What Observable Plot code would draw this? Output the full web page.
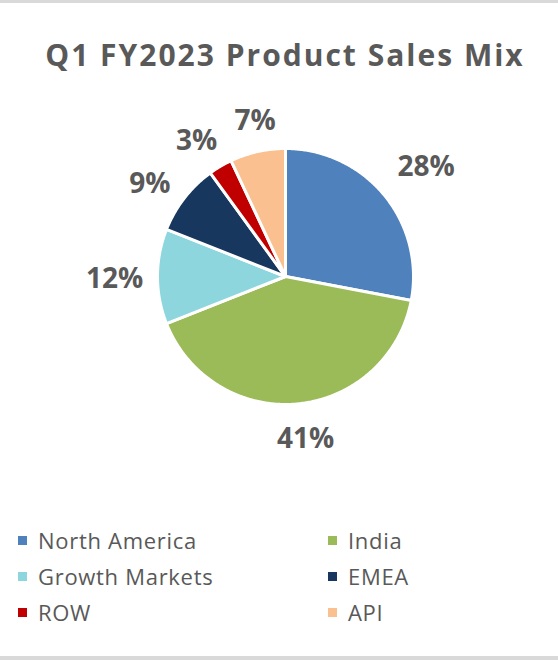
<!DOCTYPE html>
<html><head><meta charset="utf-8">
<script src="https://cdn.jsdelivr.net/npm/d3@7"></script>
<script src="https://cdn.jsdelivr.net/npm/@observablehq/plot@0.6"></script>
<style>
body{margin:0;background:#fff;font-family:"Open Sans",sans-serif;}
#wrap{position:relative;width:558px;height:660px;overflow:hidden;background:#fff;}
#topbar{position:absolute;left:0;top:0;width:558px;height:3px;background:#d9d9d9}
#botbar{position:absolute;left:0;top:656px;width:558px;height:4px;background:#d9d9d9}
#title{position:absolute;top:33px;left:0;width:570px;text-align:center;font-size:30px;font-weight:bold;color:#595959;white-space:nowrap;line-height:44px;letter-spacing:2px}
#chart{position:absolute;top:90px;left:0}
.item{position:absolute;display:flex;align-items:center;font-size:22px;color:#595959;white-space:nowrap;height:30px;letter-spacing:0.7px}
.sw{width:9px;height:9px;margin-right:11px;margin-left:0}
</style></head>
<body>
<div id="wrap">
  <div id="topbar"></div>
  <div id="title">Q1 FY2023 Product Sales Mix</div>
  <div id="chart"></div>
  <div id="legend"></div>
  <div id="botbar"></div>
</div>
<script>
const regions = ["North America", "India", "Growth Markets", "EMEA", "ROW", "API"];
const shares = [28, 41, 12, 9, 3, 7];
const colors = ["#4F81BD", "#9BBB59", "#8DD6DD", "#17375E", "#C00000", "#FAC090"];
const title = "Q1 FY2023 Product Sales Mix";

const W = 558, H = 420, cx = 285, cy = 186, R = 128;
const rows = regions.map((r, i) => ({region: r, share: shares[i]}));
const arcs = d3.pie().sort(null).value(d => d.share)(rows);

const pts = [];
arcs.forEach(a => {
  const n = Math.max(2, Math.ceil((a.endAngle - a.startAngle) / 0.01));
  pts.push({region: a.data.region, x: 0, y: 0});
  for (let k = 0; k <= n; k++) {
    const t = a.startAngle + (a.endAngle - a.startAngle) * k / n;
    pts.push({region: a.data.region, x: Math.sin(t), y: Math.cos(t)});
  }
});

// label placement: outside the slice at its mid-angle, rotated back if it collides
const offX = 5, offY = -3;
function place(angle, w) {
  const ux = Math.sin(angle), uy = Math.cos(angle);
  const d = 148 + (w / 2) * Math.abs(ux) + 10 * Math.abs(uy);
  return {x: ux * d + offX, y: uy * d + offY};
}
const boxes = arcs.map(a => {
  const text = a.data.share + "%";
  const w = (text.length - 1) * 16 + 24;
  return {text, w, angle: (a.startAngle + a.endAngle) / 2};
});
function overlaps(a, b) {
  const pa = place(a.angle, a.w), pb = place(b.angle, b.w);
  return Math.abs(pa.x - pb.x) < (a.w + b.w) / 2 + 18 && Math.abs(pa.y - pb.y) < 42;
}
for (let i = boxes.length - 2; i >= 0; i--) {
  let guard = 0;
  while (overlaps(boxes[i], boxes[i + 1]) && guard++ < 60) boxes[i].angle -= Math.PI / 360;
}
const labels = boxes.map(b => {
  const p = place(b.angle, b.w);
  return {x: p.x / R, y: p.y / R, text: b.text};
});

const chart = Plot.plot({
  width: W, height: H, margin: 0,
  style: {background: "transparent", fontFamily: "'Open Sans', sans-serif"},
  x: {domain: [-cx / R, (W - cx) / R], axis: null},
  y: {domain: [-(H - cy) / R, cy / R], axis: null},
  color: {domain: regions, range: colors},
  marks: [
    Plot.line(pts, {x: "x", y: "y", z: "region", fill: "region", stroke: "white",
      strokeWidth: 3, strokeLinejoin: "round", curve: "linear-closed"}),
    Plot.text(labels, {x: "x", y: "y", text: "text", fontSize: 28, fontWeight: "bold", fill: "#595959"})
  ]
});
document.getElementById("chart").appendChild(chart);
document.getElementById("title").textContent = title;

const legend = document.getElementById("legend");
regions.forEach((r, i) => {
  const col = i % 2, row = Math.floor(i / 2);
  const el = document.createElement("div");
  el.className = "item";
  el.style.left = (col ? 328 : 18) + "px";
  el.style.top = (525 + row * 36) + "px";
  const sw = document.createElement("span");
  sw.className = "sw";
  sw.style.background = colors[i];
  el.appendChild(sw);
  el.appendChild(document.createTextNode(r));
  legend.appendChild(el);
});
</script>
</body></html>
